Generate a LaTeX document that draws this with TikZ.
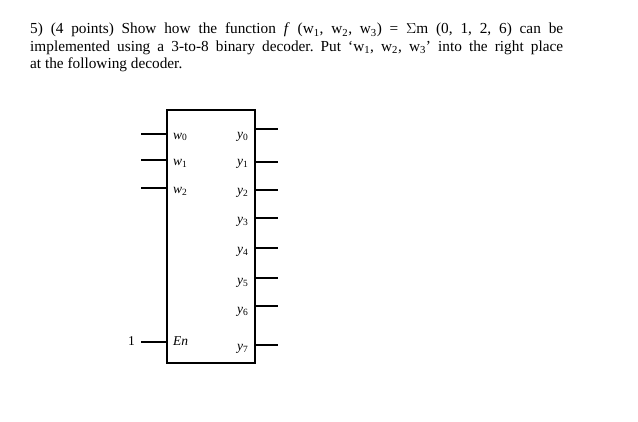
\documentclass[tikz,border=0pt]{standalone}
\usepackage{fontspec}
\setmainfont{Liberation Serif}
\newcommand{\lsub}[1]{\raisebox{-0.3ex}{\fontsize{9.5}{10}\selectfont #1}}
\begin{document}
\frenchspacing
\begin{tikzpicture}[x=1pt,y=-1pt,
  pin/.style={line width=1.3pt},
  lbl/.style={font=\fontsize{13.5}{14}\selectfont,inner sep=0pt}]
\useasboundingbox (0,0) rectangle (638,422);
\node[anchor=north west,inner sep=0pt,text width=533pt,align=justify,font=\fontsize{15.3}{17.5}\selectfont] (q) at (30,23)
{\frenchspacing 5) (4 points) Show how the function \textit{f} (w\textsubscript{1}, w\textsubscript{2}, w\textsubscript{3}) = \(\Sigma\)m (0, 1, 2, 6) can be\linebreak
implemented using a 3-to-8 binary decoder. Put ‘w\textsubscript{1}, w\textsubscript{2}, w\textsubscript{3}’ into the right place\linebreak
at the following decoder.};
\draw[line width=1.3pt] (167,110) rectangle (255,363);
\foreach \n/\y/\t in {a/134/0,b/160/1,c/188/2}{
  \draw[pin] (141,\y) -- (167,\y);
  \node[lbl,anchor=west] (w\n) at (173,\y+3) {\textit{w}\lsub{\t}};
}
\draw[pin] (141,342) -- (167,342);
\node[lbl,anchor=east] (one) at (135,341) {1};
\node[lbl,anchor=west] (en) at (173,341) {\textit{En}};
\foreach \y/\ly/\t in {129/137/0,162/164/1,190/193/2,218/222/3,248/252/4,278/283/5,306/312/6,345/349/7}{
  \draw[pin] (255,\y) -- (278,\y);
  \node[lbl,anchor=east] (y\t) at (248,\ly) {\textit{y}\lsub{\t}};
}
\end{tikzpicture}
\end{document}
